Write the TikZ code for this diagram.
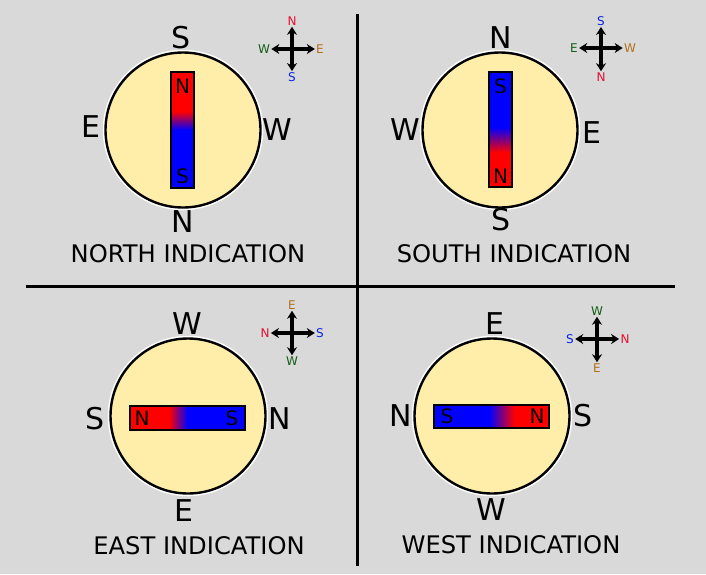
\documentclass[tikz,border=0pt]{standalone}
\usepackage{fontspec}
\setmainfont{DejaVu Sans}
\usetikzlibrary{arrows.meta}
\definecolor{panel}{HTML}{D9D9D9}
\definecolor{dial}{HTML}{FFEEAA}
\definecolor{needlered}{HTML}{FF0000}
\definecolor{crossred}{HTML}{E4102F}
\definecolor{crossblue}{HTML}{0A22E0}
\definecolor{crossgreen}{HTML}{0F5F14}
\definecolor{crossbrown}{HTML}{B3701C}
\pgfdeclarehorizontalshading{magnetNS}{100bp}{color(0bp)=(needlered);color(42bp)=(needlered);color(50bp)=(blue);color(100bp)=(blue)}
\pgfdeclarehorizontalshading{magnetSN}{100bp}{color(0bp)=(blue);color(49bp)=(blue);color(60bp)=(needlered);color(100bp)=(needlered)}
\tikzset{
  >={Stealth[length=8pt,width=10pt]},
  my dial/.style={
    circle,
    draw,
    line width=2.4pt,
    fill=dial,
    minimum size=155pt,
    inner sep=0pt
  },
  my halo/.style={
    circle,
    fill=white,
    minimum size=160.5pt,
    inner sep=0pt
  },
  my bar/.style={
    draw,
    line width=2.2pt,
    inner sep=0pt,
    minimum width=#1
  },
  my side/.style={font=\fontsize{30}{30}\selectfont,inner sep=0pt},
  my pole/.style={font=\fontsize{20}{20}\selectfont,inner sep=0pt},
  my title/.style={font=\fontsize{24.2}{26}\selectfont,inner sep=0pt},
  my tick/.style={font=\fontsize{12}{12}\selectfont,inner sep=1.2pt},
  my cross/.style={<->,line width=3.2pt},
  my rule/.style={line width=3pt}
}
\begin{document}
\begin{tikzpicture}[x=1pt,y=-1pt]
\path[use as bounding box,fill=panel] (0,0) rectangle (706,574);
% Dividers
\coordinate (top) at (357,14);
\coordinate (bottom) at (357,566);
\coordinate (left) at (26,286);
\coordinate (right) at (675,286);
\draw[my rule] (top) -- (bottom);
\draw[my rule] (left) -- (right);
% North panel
\node[my halo] at (183,130) {};
\node[my dial] (nd) at (183,130) {};
\node[my bar=23pt,minimum height=116pt,shading=magnetNS,shading angle=-90] (nb) at (182.5,130) {};
\node[my pole] (nbn) at (182.5,86) {N};
\node[my pole] (nbs) at (182.5,176) {S};
\node[my side] (ns) at (181.5,38) {S};
\node[my side] (ne) at (90.5,127) {E};
\node[my side] (nw) at (277,130) {W};
\node[my side] (nn) at (182.5,222) {N};
\node[my title] (nt) at (188,254) {NORTH INDICATION};
\node[my tick,text=crossred] (nxn) at (292,21) {N};
\node[my tick,text=crossblue] (nxs) at (292,77) {S};
\node[my tick,text=crossgreen] (nxw) at (264,49) {W};
\node[my tick,text=crossbrown] (nxe) at (320,49) {E};
\draw[my cross] (nxn) -- (nxs);
\draw[my cross] (nxw) -- (nxe);
% South panel
\node[my halo] at (500,130) {};
\node[my dial] (sd) at (500,130) {};
\node[my bar=23pt,minimum height=115pt,shading=magnetSN,shading angle=-90] (sb) at (500.5,129.5) {};
\node[my pole] (sbs) at (500.5,86) {S};
\node[my pole] (sbn) at (500.5,176) {N};
\node[my side] (sn) at (500.5,38) {N};
\node[my side] (sw) at (405,130) {W};
\node[my side] (se) at (591.5,133) {E};
\node[my side] (ss) at (501,220) {S};
\node[my title] (st) at (514,254) {SOUTH INDICATION};
\node[my tick,text=crossblue] (sxs) at (601,21) {S};
\node[my tick,text=crossred] (sxn) at (601,77) {N};
\node[my tick,text=crossgreen] (sxw) at (574,48) {E};
\node[my tick,text=crossbrown] (sxe) at (630,48) {W};
\draw[my cross] (sxs) -- (sxn);
\draw[my cross] (sxw) -- (sxe);
% East panel
\node[my halo] at (188,416) {};
\node[my dial] (ed) at (188,416) {};
\node[my bar=115pt,minimum height=24pt,shading=magnetNS] (eb) at (187.5,418) {};
\node[my pole] (ebn) at (142,418) {N};
\node[my pole] (ebs) at (232,418) {S};
\node[my side] (ew) at (187.5,324) {W};
\node[my side] (es) at (95.5,419) {S};
\node[my side] (en) at (279.5,419) {N};
\node[my side] (ee) at (183.5,511) {E};
\node[my title] (et) at (199,546) {EAST INDICATION};
\node[my tick,text=crossbrown] (exe) at (292,305) {E};
\node[my tick,text=crossgreen] (exw) at (292,361) {W};
\node[my tick,text=crossred] (exn) at (265,333) {N};
\node[my tick,text=crossblue] (exs) at (320,333) {S};
\draw[my cross] (exe) -- (exw);
\draw[my cross] (exn) -- (exs);
% West panel
\node[my halo] at (492,416) {};
\node[my dial] (wd) at (492,416) {};
\node[my bar=115pt,minimum height=23pt,shading=magnetSN] (wb) at (491.5,416.5) {};
\node[my pole] (wbs) at (447,416) {S};
\node[my pole] (wbn) at (537,416) {N};
\node[my side] (we) at (495,324) {E};
\node[my side] (wn) at (401,416) {N};
\node[my side] (ws) at (583,416) {S};
\node[my side] (ww) at (491.5,510) {W};
\node[my title] (wt) at (511,545) {WEST INDICATION};
\node[my tick,text=crossgreen] (wxw) at (597,311) {W};
\node[my tick,text=crossbrown] (wxe) at (597,368) {E};
\node[my tick,text=crossblue] (wxs) at (570,339) {S};
\node[my tick,text=crossred] (wxn) at (625,339) {N};
\draw[my cross] (wxw) -- (wxe);
\draw[my cross] (wxs) -- (wxn);
\end{tikzpicture}
\end{document}
